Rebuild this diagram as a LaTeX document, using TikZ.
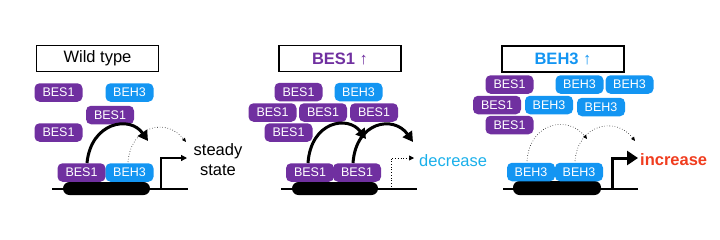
\documentclass[tikz,border=0pt]{standalone}
\usepackage{fontspec}
\setmainfont{Liberation Sans}
\usetikzlibrary{arrows.meta}
\definecolor{bespurple}{HTML}{7030A0}
\definecolor{behblue}{HTML}{1395F2}
\definecolor{deccyan}{HTML}{1BB0EA}
\definecolor{incred}{HTML}{F03C1E}
\newcommand{\pillfont}{\fontsize{12.5}{14}\selectfont}
\newcommand{\bigfont}{\fontsize{16.5}{20}\selectfont}
\tikzset{
  pill/.style={rounded corners=5pt, minimum width=48pt, minimum height=18.5pt, inner sep=0pt, text=white, font=\pillfont},
  pes/.style={pill, fill=bespurple},
  peh/.style={pill, fill=behblue},
  titlebox/.style={draw=black, line width=1.3pt, minimum width=122pt, minimum height=26pt, inner sep=0pt, font=\bigfont},
  dnabar/.style={fill=black, rounded corners=6.5pt},
  dnaline/.style={line width=1.4pt},
  thickarr/.style={line width=3pt, -{Triangle[length=10pt,width=11pt]}},
  dotarr/.style={line width=0.6pt, dotted, -{Triangle[length=4pt,width=3.5pt]}},
  thinprom/.style={line width=1.3pt, -{Triangle[length=6pt,width=6pt]}},
  dotprom/.style={line width=0.7pt, dotted, -{Triangle[length=5pt,width=5pt]}},
  thickprom/.style={line width=3pt, -{Triangle[length=11pt,width=14pt]}},
}
\begin{document}
\begin{tikzpicture}[x=1pt,y=-1pt]
\useasboundingbox (0,0) rectangle (720,239);

% ---------- Panel 1: Wild type ----------
\node[titlebox] (t1) at (97.5,58.5) {Wild type};
\node[pes] (a1) at (58.5,92.5) {BES1};
\node[peh] (a2) at (129.5,92.5) {BEH3};
\node[pes] (a3) at (110,115) {BES1};
\node[pes] (a4) at (58.5,132.5) {BES1};
\coordinate (l1s) at (52,189);
\coordinate (l1e) at (188,189);
\draw[dnaline] (l1s) -- (l1e);
\fill[dnabar] (63,182) rectangle (150,195);
\node[pes] (b1) at (81.5,172.5) {BES1};
\node[peh] (b2) at (129.5,172.5) {BEH3};
\coordinate (p1a) at (161,189);
\coordinate (p1b) at (161,158);
\coordinate (p1c) at (187,158);
\draw[thinprom] (p1a) -- (p1b) -- (p1c);
\coordinate (s1a) at (87,163);
\coordinate (s1b) at (128,162);
\coordinate (e1a) at (148,141);
\coordinate (e1b) at (186,142);
\draw[dotarr] (s1b) .. controls (131,126) and (166,117) .. (e1b);
\draw[thickarr] (s1a) .. controls (91,122) and (130,115) .. (e1a);
\node[font=\bigfont, align=center] (st) at (218,160) {steady\\state};

% ---------- Panel 2: BES1 up ----------
\node[titlebox, text=bespurple] (t2) at (340,58.5) {\bfseries BES1 \mdseries ↑};
\node[pes] (c1) at (298.5,92) {BES1};
\node[peh] (c2) at (358.5,92) {BEH3};
\node[pes] (c3) at (272.5,112.5) {BES1};
\node[pes] (c4) at (323,112.5) {BES1};
\node[pes] (c5) at (374,112.5) {BES1};
\node[pes] (c6) at (288.5,132.5) {BES1};
\coordinate (l2s) at (281,189);
\coordinate (l2e) at (417,189);
\draw[dnaline] (l2s) -- (l2e);
\fill[dnabar] (292,182) rectangle (378,195);
\node[pes] (d1) at (310,172.5) {BES1};
\node[pes] (d2) at (357,172.5) {BES1};
\coordinate (p2a) at (391,189);
\coordinate (p2b) at (391,158);
\coordinate (p2c) at (414,158);
\draw[dotprom] (p2a) -- (p2b) -- (p2c);
\coordinate (e2a) at (366,139);
\coordinate (e2b) at (413,142);
\coordinate (s2a) at (308,163);
\coordinate (s2b) at (353,163);
\draw[thickarr] (s2a) .. controls (311,121) and (348,115) .. (e2a);
\draw[thickarr] (s2b) .. controls (356,121) and (394,115) .. (e2b);
\node[font=\bigfont, text=deccyan, anchor=west, inner sep=0pt] (dec) at (419,161) {decrease};

% ---------- Panel 3: BEH3 up ----------
\node[titlebox, text=behblue] (t3) at (563,59) {\bfseries BEH3 \mdseries ↑};
\node[pes] (f1) at (509.5,84.5) {BES1};
\node[peh] (f2) at (579.5,84.5) {BEH3};
\node[peh] (f3) at (629.5,84.5) {BEH3};
\node[pes] (f4) at (497,105) {BES1};
\node[peh] (f5) at (549,105) {BEH3};
\node[peh] (f6) at (601,107) {BEH3};
\node[pes] (f7) at (509.5,125) {BES1};
\coordinate (l3s) at (503,189);
\coordinate (l3e) at (638,189);
\draw[dnaline] (l3s) -- (l3e);
\fill[dnabar] (513,181) rectangle (601,195);
\node[peh] (g1) at (531,172) {BEH3};
\node[peh] (g2) at (579,172) {BEH3};
\coordinate (p3a) at (612,189);
\coordinate (p3b) at (612,158);
\coordinate (p3c) at (638,158);
\draw[thickprom] (p3a) -- (p3b) -- (p3c);
\coordinate (s3a) at (527,161);
\coordinate (s3b) at (575,161);
\coordinate (e3a) at (587,139);
\coordinate (e3b) at (635,141);
\draw[dotarr] (s3a) .. controls (530,122) and (568,115) .. (e3a);
\draw[dotarr] (s3b) .. controls (578,124) and (616,116) .. (e3b);
\node[font=\bigfont\bfseries, text=incred, anchor=west, inner sep=0pt] (inc) at (640,160) {increase};
\end{tikzpicture}
\end{document}
